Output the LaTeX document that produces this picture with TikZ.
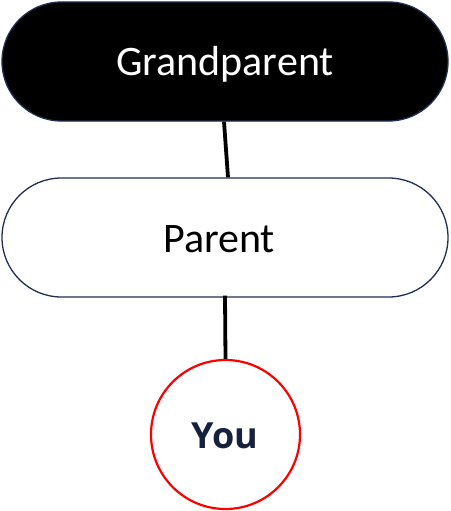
\documentclass[tikz,border=0pt]{standalone}
\usepackage{fontspec}
\setmainfont{Carlito}
\newfontfamily\youfont{Open Sans}
\definecolor{navy}{HTML}{1F3050}
\definecolor{youcol}{HTML}{16213E}
\begin{document}
\begin{tikzpicture}[x=1pt,y=-1pt,
  pill/.style={draw=navy,line width=1.3pt,rounded corners=59.5pt,minimum width=446pt,minimum height=119pt,inner sep=0pt},
  lbl/.style={anchor=base,inner sep=0pt,font=\fontsize{42}{46}\selectfont},
  link/.style={line width=3.8pt,black},
  youc/.style={circle,draw=red,line width=2.2pt,minimum size=149pt,inner sep=0pt},
  youl/.style={anchor=base,inner sep=0pt,font=\youfont\bfseries\fontsize{36}{40}\selectfont,text=youcol}]
\useasboundingbox (0,0) rectangle (450,511);
\node[pill,fill=black] (gp) at (225,61.5) {};
\node[pill,fill=white] (p) at (225,237.5) {};
\node[youc] (you) at (225.5,434.5) {};
\node[lbl,text=white] (gpt) at (225,75.7) {Grandparent};
\node[lbl,text=black] (pt) at (219,252.7) {Parent};
\node[youl] (yout) at (225,448) {You};
\draw[link] ([xshift=-1pt]gp.south) -- ([xshift=3pt]p.north);
\draw[link] ([yshift=2pt]p.south) -- (you.north);
\end{tikzpicture}
\end{document}
